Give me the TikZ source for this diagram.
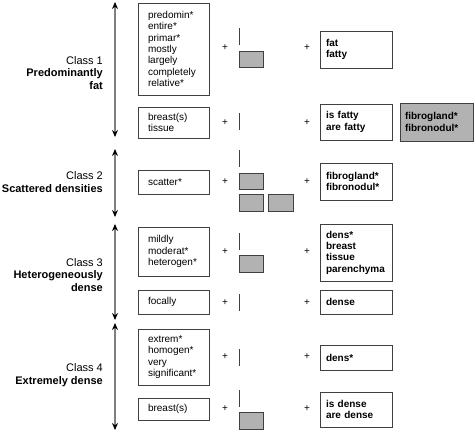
\documentclass[tikz,border=0pt]{standalone}
\usepackage{fontspec}
\setmainfont{Liberation Sans}
\usepackage{tikz}
\usetikzlibrary{positioning, arrows.meta, calc}

\tikzset{
	termbox/.style={draw=black!75, line width=0.8pt, inner xsep=10pt, inner ysep=0pt, text width=51pt, align=left, font=\fontsize{10}{11.3}\selectfont},
	matchbox/.style={termbox, inner xsep=6pt, text width=60pt, font=\bfseries\fontsize{10}{11.3}\selectfont},
	shadebox/.style={matchbox, fill=black!30, inner xsep=5pt, text width=63pt},
	plussign/.style={inner sep=0pt, font=\fontsize{10}{10}\selectfont},
	barmark/.style={fill=black!75, inner sep=0pt, minimum width=1.6pt, minimum height=17pt, anchor=north},
	slotmark/.style={draw=black!75, fill=black!30, line width=0.8pt, inner sep=0pt, minimum width=24pt, minimum height=16pt, anchor=north west},
	classspan/.style={draw=black!50, line width=1.3pt, {Stealth[black,length=7pt,width=6pt]}-{Stealth[black,length=7pt,width=6pt]}},
	classlabel/.style={align=right, anchor=east, inner sep=0pt, font=\fontsize{11}{12.5}\selectfont}
}

\begin{document}
\begin{tikzpicture}[x=1pt, y=-1pt]
	\useasboundingbox (0, 0) rectangle (474, 431);
	% class ranges
	\coordinate (c1top) at (115, 2);   \coordinate (c1bot) at (115, 137);
	\coordinate (c2top) at (115, 149); \coordinate (c2bot) at (115, 217);
	\coordinate (c3top) at (115, 224); \coordinate (c3bot) at (115, 320);
	\coordinate (c4top) at (115, 323); \coordinate (c4bot) at (115, 430);
	\draw[classspan] (c1top) -- (c1bot);
	\draw[classspan] (c2top) -- (c2bot);
	\draw[classspan] (c3top) -- (c3bot);
	\draw[classspan] (c4top) -- (c4bot);
	\node[classlabel] (class1) at (103, 73) {Class 1\\\textbf{Predominantly}\\\textbf{fat}};
	\node[classlabel] (class2) at (103, 182) {Class 2\\\textbf{Scattered densities}};
	\node[classlabel] (class3) at (103, 275) {Class 3\\\textbf{Heterogeneously}\\\textbf{dense}};
	\node[classlabel] (class4) at (103, 375) {Class 4\\\textbf{Extremely dense}};

	% modifier terms
	\node[termbox, minimum height=92pt] (predomin) at (173.5, 49) {predomin*\\entire*\\primar*\\mostly\\largely\\completely\\relative*};
	\node[termbox, minimum height=31pt] (breasttissue) at (173.5, 122.5) {breast(s)\\tissue};
	\node[termbox, minimum height=24pt] (scatter) at (173.5, 182) {scatter*};
	\node[termbox, minimum height=49pt] (mildly) at (173.5, 251.5) {mildly\\moderat*\\heterogen*};
	\node[termbox, minimum height=24pt] (focally) at (173.5, 302) {focally};
	\node[termbox, minimum height=56pt] (extrem) at (173.5, 357) {extrem*\\homogen*\\very\\significant*};
	\node[termbox, minimum height=22pt] (breasts) at (173.5, 409) {breast(s)};

	% first plus column
	\node[plussign] (pa1) at (225, 48) {+};
	\node[plussign] (pa2) at (225, 123) {+};
	\node[plussign] (pa3) at (225, 182) {+};
	\node[plussign] (pa4) at (225, 252) {+};
	\node[plussign] (pa5) at (225, 303) {+};
	\node[plussign] (pa6) at (225, 357) {+};
	\node[plussign] (pa7) at (225, 409) {+};

	% gap marks
	\node[barmark] (bar1) at (239.5, 28) {};
	\node[slotmark] (slot1) at (239, 51) {};
	\node[barmark] (bar2) at (239.5, 113) {};
	\node[barmark] (bar3) at (239.5, 150) {};
	\node[slotmark] (slot3) at (239, 173) {};
	\node[slotmark, minimum height=17pt] (slot3a) at (239, 194) {};
	\node[slotmark, minimum height=17pt, minimum width=25pt] (slot3b) at (268, 194) {};
	\node[barmark] (bar4) at (239.5, 233) {};
	\node[slotmark, minimum height=17pt] (slot4) at (239, 255) {};
	\node[barmark] (bar5) at (239.5, 294) {};
	\node[barmark] (bar6) at (239.5, 349) {};
	\node[barmark] (bar7) at (239.5, 390) {};
	\node[slotmark, minimum height=17pt] (slot7) at (239, 412) {};

	% second plus column
	\node[plussign] (pb1) at (307, 48) {+};
	\node[plussign] (pb2) at (307, 123) {+};
	\node[plussign] (pb3) at (307, 182) {+};
	\node[plussign] (pb4) at (307, 252) {+};
	\node[plussign] (pb5) at (307, 303) {+};
	\node[plussign] (pb6) at (307, 357) {+};
	\node[plussign] (pb7) at (307, 409) {+};

	% matched terms
	\node[matchbox, minimum height=37pt] (fat) at (356, 49.5) {fat\\fatty};
	\node[matchbox, minimum height=36pt] (isfatty) at (356, 122) {is fatty\\are fatty};
	\node[shadebox, minimum height=38pt] (notfibro) at (436.5, 122) {fibrogland*\\fibronodul*};
	\node[matchbox, minimum height=37pt] (fibro) at (356, 181.5) {fibrogland*\\fibronodul*};
	\node[matchbox, minimum height=57pt] (dens) at (356, 252.5) {dens*\\breast\\tissue\\parenchyma};
	\node[matchbox, minimum height=24pt] (dense) at (356, 302) {dense};
	\node[matchbox, minimum height=25pt] (densstar) at (356, 357.5) {dens*};
	\node[matchbox, minimum height=35pt] (isdense) at (356, 409.5) {is dense\\are dense};
\end{tikzpicture}
\end{document}
